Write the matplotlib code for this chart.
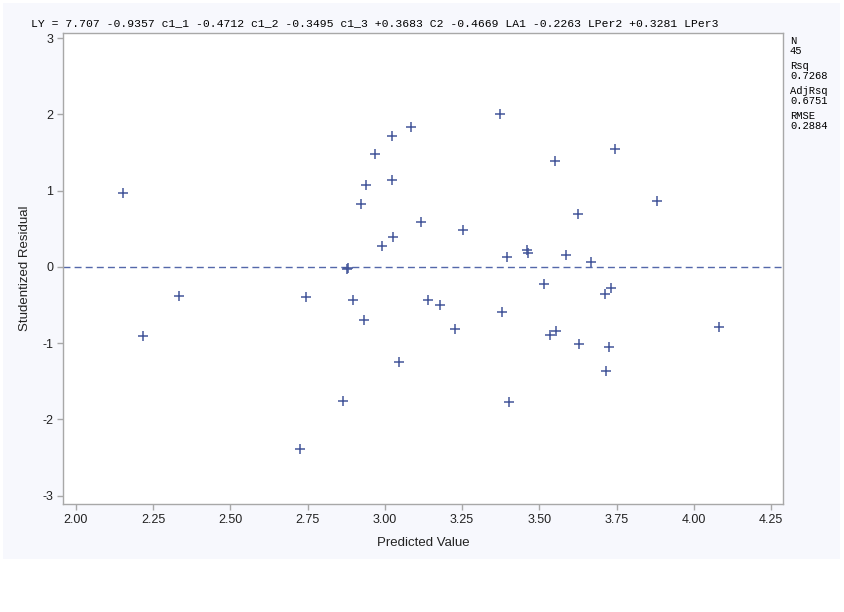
import matplotlib
matplotlib.use('Agg')
import matplotlib.pyplot as plt
from matplotlib.patches import Rectangle

plt.rcParams['axes.unicode_minus'] = False

# predicted values and studentized residuals
predicted = [2.153, 2.218, 2.334, 2.745, 2.878, 2.880, 2.896, 2.932, 2.922, 2.939,
             2.967, 2.991, 3.024, 3.024, 3.027, 3.085, 3.373, 3.117, 3.252, 3.396,
             3.459, 3.465, 3.551, 3.626, 3.586, 3.667, 3.744, 3.881, 3.140, 3.177,
             3.227, 3.379, 3.516, 3.713, 3.731, 3.535, 3.554, 3.629, 3.726, 4.082,
             2.863, 3.047, 3.403, 3.716, 2.725]
residual = [0.966, -0.913, -0.376, -0.397, -0.030, -0.015, -0.432, -0.691, 0.822, 1.075,
            1.477, 0.275, 1.721, 1.136, 0.393, 1.831, 2.001, 0.590, 0.481, 0.127,
            0.227, 0.187, 1.393, 0.699, 0.153, 0.066, 1.550, 0.861, -0.432, -0.502,
            -0.809, -0.590, -0.223, -0.358, -0.275, -0.895, -0.843, -1.005, -1.045, -0.786,
            -1.760, -1.249, -1.773, -1.359, -2.394]

xticks = [2.00, 2.25, 2.50, 2.75, 3.00, 3.25, 3.50, 3.75, 4.00, 4.25]
yticks = [-3, -2, -1, 0, 1, 2, 3]

title = ('LY = 7.707 -0.9357 c1_1 -0.4712 c1_2 -0.3495 c1_3 +0.3683 C2 '
         '-0.4669 LA1 -0.2263 LPer2 +0.3281 LPer3')
stat_names = ['N', 'Rsq', 'AdjRsq', 'RMSE']
stat_values = ['45', '0.7268', '0.6751', '0.2884']

W, H = 844, 612
fig = plt.figure(figsize=(W / 100, H / 100), dpi=100)
fig.patch.set_facecolor('white')
fig.patches.append(Rectangle((3 / W, 1 - 559 / H), 837 / W, 556 / H,
                             transform=fig.transFigure, facecolor='#F7F8FD',
                             edgecolor='none', zorder=-5))

ax = fig.add_axes([63 / W, 1 - 504 / H, 720 / W, 471 / H])
ax.set_zorder(2)
ax.set_facecolor('white')

blue = '#44569A'
ax.axhline(0, color='#5468AA', lw=1.0, ls=(0, (5, 3)), zorder=1)
ax.plot(predicted, residual, ls='none', marker='+', ms=6.5, mew=1.1, color=blue, zorder=2)

ax.set_xlim(1.958, 4.289)
ax.set_ylim(-3.109, 3.066)
ax.set_xticks(xticks)
ax.set_xticklabels([f'{v:.2f}' for v in xticks])
ax.set_yticks(yticks)

for s in ax.spines.values():
    s.set_color('#A8A8A8')
    s.set_linewidth(1.0)
ax.tick_params(direction='out', length=4, width=1, color='#A8A8A8',
               labelsize=9, labelcolor='#222222', pad=3)
for lab in ax.get_xticklabels() + ax.get_yticklabels():
    lab.set_family('Liberation Sans')

ax.set_xlabel('Predicted Value', family='Liberation Sans', fontsize=9.5,
              color='#222222', labelpad=8)
ax.set_ylabel('Studentized Residual', family='Liberation Sans', fontsize=9.5,
              color='#222222', labelpad=8)

fig.text(31 / W, 1 - 23 / H, title, family='Liberation Mono', fontsize=8.2,
         va='center', ha='left', color='black')

y = 41
for name, val in zip(stat_names, stat_values):
    fig.text(790 / W, 1 - y / H, name, family='Liberation Mono', fontsize=7.6,
             va='center', ha='left', color='black')
    fig.text(790 / W, 1 - (y + 10) / H, val, family='Liberation Mono', fontsize=7.6,
             va='center', ha='left', color='black')
    y += 25

fig.savefig('out.png', dpi=100, facecolor='white')
